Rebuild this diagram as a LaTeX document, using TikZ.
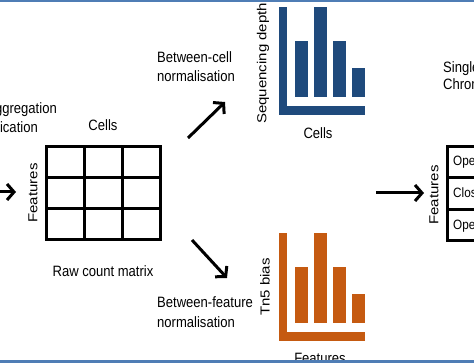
\documentclass[tikz,border=0pt]{standalone}
\usepackage{fontspec}
\setmainfont{Liberation Sans}
\newfontfamily\hfont{Liberation Sans}[FakeStretch=0.87]
\newfontfamily\vfont{Liberation Sans}[FakeStretch=1.149]
\usetikzlibrary{arrows.meta}
\definecolor{frameblue}{HTML}{4F7DB5}
\definecolor{barblue}{HTML}{1F4A7C}
\definecolor{barorange}{HTML}{C55A11}
\tikzset{
  htext/.style={font=\hfont\fontsize{15}{18}\selectfont, inner sep=0pt},
  vtext/.style={font=\vfont\fontsize{13.05}{16}\selectfont, inner sep=0pt, rotate=90},
  celltext/.style={font=\hfont\fontsize{13.5}{16}\selectfont, inner sep=0pt},
  bigarrow/.style={line width=3pt, -{Straight Barb[length=7pt,width=16pt]}},
  gridline/.style={line width=3.2pt},
}
\begin{document}
\begin{tikzpicture}[x=1pt,y=-1pt]
\useasboundingbox (0,0) rectangle (474,363);
\fill[white] (0,0) rectangle (474,363);

% left cut-off text and arrow
\node[htext, anchor=base east] (agg) at (57,114) {ggregation};
\node[htext, anchor=base east] (quant) at (38,133) {ication};
\coordinate (la0) at (-2,192);
\coordinate (la1) at (16,192);
\draw[bigarrow] (la0) -- (la1);

% raw count matrix
\coordinate (mNW) at (46.5,146.5);
\coordinate (mSE) at (160.5,239.5);
\draw[gridline] (mNW) rectangle (mSE);
\draw[gridline] (84.5,146.5) -- (84.5,239.5);
\draw[gridline] (122.5,146.5) -- (122.5,239.5);
\draw[gridline] (46.5,177.5) -- (160.5,177.5);
\draw[gridline] (46.5,208.5) -- (160.5,208.5);
\node[htext, anchor=base] (cellsA) at (103,131) {Cells};
\node[vtext] (featA) at (33,193) {Features};
\node[htext, anchor=base] (raw) at (103,277) {Raw count matrix};

% diagonal arrows
\coordinate (ua0) at (188,138);
\coordinate (ua1) at (225,102);
\draw[bigarrow] (ua0) -- (ua1);
\coordinate (da0) at (192,240);
\coordinate (da1) at (227,278);
\draw[bigarrow] (da0) -- (da1);

\node[htext, anchor=base west] (bc1) at (157,63) {Between-cell};
\node[htext, anchor=base west] (bc2) at (157,82) {normalisation};
\node[htext, anchor=base west] (bf1) at (157,308) {Between-feature};
\node[htext, anchor=base west] (bf2) at (157,328) {normalisation};

% blue chart
\fill[barblue] (279,7) rectangle (287,115);
\fill[barblue] (279,106.5) rectangle (365,115);
\fill[barblue] (295,41) rectangle (308,97);
\fill[barblue] (314,7) rectangle (327,97);
\fill[barblue] (333,41) rectangle (346,97);
\fill[barblue] (352,68) rectangle (365,97);
\node[vtext, anchor=west] (seq) at (263,124) {Sequencing depth};
\node[htext, anchor=base] (cellsB) at (318,139) {Cells};

% orange chart
\fill[barorange] (279,233) rectangle (287,341);
\fill[barorange] (279,332.5) rectangle (365,341);
\fill[barorange] (295,267) rectangle (308,323);
\fill[barorange] (314,233) rectangle (327,323);
\fill[barorange] (333,267) rectangle (346,323);
\fill[barorange] (352,294) rectangle (365,323);
\node[vtext] (tn5) at (265,287) {Tn5 bias};
\node[htext, anchor=base] (featB) at (320,363) {Features};

% right arrow and table
\coordinate (ra0) at (376,193);
\coordinate (ra1) at (424,193);
\draw[bigarrow] (ra0) -- (ra1);
\draw[gridline] (447.5,146.5) rectangle (495,240.5);
\draw[gridline] (447.5,177.5) -- (495,177.5);
\draw[gridline] (447.5,209.5) -- (495,209.5);
\node[celltext, anchor=base west] (t1) at (453,166) {Open};
\node[celltext, anchor=base west] (t2) at (453,198) {Closed};
\node[celltext, anchor=base west] (t3) at (453,230) {Open};
\node[vtext] (featC) at (434,195) {Features};
\node[htext, anchor=base west] (sc1) at (443,73) {Single};
\node[htext, anchor=base west] (sc2) at (443,90) {Chrom};

% frame lines
\fill[frameblue] (0,0) rectangle (474,2.5);
\fill[frameblue] (0,360) rectangle (474,363);
\end{tikzpicture}
\end{document}
